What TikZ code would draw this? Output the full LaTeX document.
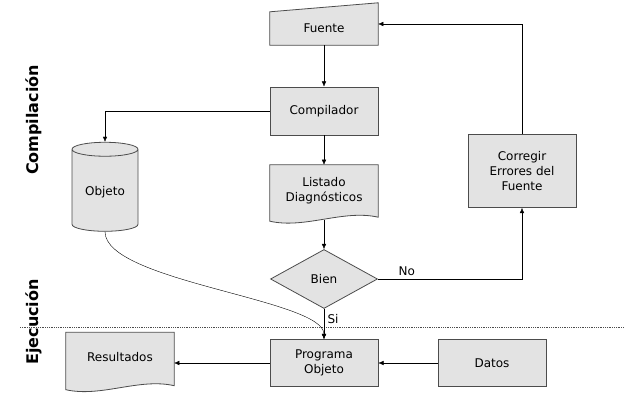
\documentclass[tikz,border=0pt]{standalone}
\usepackage{fontspec}
\setmainfont{DejaVu Sans}
\usetikzlibrary{arrows.meta,positioning,shapes.geometric,calc}
\definecolor{boxgray}{HTML}{E3E3E3}
\tikzset{%
  >={Latex[width=1.6mm,length=1.8mm]},
  % Specifications for style of nodes:
       base/.style = {rectangle, minimum width=108pt, minimum height=48pt,
                      text centered, align=center, font=\fontsize{12}{15}\selectfont},
    process/.style = {base, draw=black!70, thick, fill=boxgray},
   document/.style = {base, draw=none},
    storage/.style = {cylinder, shape border rotate=90, aspect=0.3, draw=black!70, thick,
                      fill=boxgray, minimum width=66pt, minimum height=89pt,
                      font=\fontsize{12}{15}\selectfont},
   decision/.style = {diamond, draw=black!70, thick, fill=boxgray, minimum width=107pt,
                      minimum height=59pt, inner sep=0pt, font=\fontsize{12}{15}\selectfont},
      phase/.style = {rotate=90, font=\bfseries\fontsize{16}{18}\selectfont},
      label/.style = {font=\fontsize{12}{15}\selectfont},
}
\begin{document}
\begin{tikzpicture}[x=1pt, y=-1pt]
    \useasboundingbox (0,0) rectangle (633,411);

    \node (fuente) [document, minimum height=42pt] at (324,24) {};
    \draw [fill=boxgray, draw=black!70, thick] ($(fuente.north west)+(0,9)$) -- (fuente.north east)
        -- (fuente.south east) -- (fuente.south west) -- cycle;
    \node at ($(fuente)+(0,4)$) [label] {Fuente};

    \node (compilador) [process] at (324,111) {Compilador};

    \node (listado) [document, minimum height=58pt] at (324,194) {};
    \draw [fill=boxgray, draw=black!70, thick] (listado.north west) -- (listado.north east)
        -- ($(listado.south east)+(0,-6)$) .. controls +(-35,-8) and +(35,8) .. ($(listado.south west)+(0,-2)$) -- cycle;
    \node at ($(listado)+(0,-3)$) [align=center, label] {Listado\\Diagnósticos};

    \node (objeto) [storage] at (105,192) {Objeto};
    \node (corregir) [process, minimum height=73pt] at (522,171) {Corregir\\Errores del\\Fuente};
    \node (bien) [decision] at (324,279) {Bien};

    \node (programa) [process, minimum height=47pt] at (324,363) {Programa\\Objeto};
    \node (datos) [process, minimum height=47pt] at (492,363) {Datos};

    \node (resultados) [document, minimum height=59pt] at (120,362) {};
    \draw [fill=boxgray, draw=black!70, thick] (resultados.north west) -- (resultados.north east)
        -- ($(resultados.south east)+(0,-6)$) .. controls +(-35,-8) and +(35,8) .. ($(resultados.south west)+(0,-2)$) -- cycle;
    \node at ($(resultados)+(0,-5)$) [label] {Resultados};

    \node (compilacion) [phase] at (34,120) {Compilación};
    \node (ejecucion) [phase] at (34,322) {Ejecución};

    \draw [densely dotted, thick, black!70] (20,327) -- (624,327);

    \draw [->] (fuente) -- (compilador);
    \draw [->] (compilador) -- (listado.north);
    \draw [->] ($(listado.south)+(0,-3)$) -- (bien);
    \draw [->] (compilador.west) -| (objeto.north);
    \draw [->] (bien.south) -- node [pos=0.35, right, label] {Si} (programa);
    \draw [->] (bien.east) -| node [pos=0.1, above, label] {No} (corregir);
    \draw [->] (corregir.north) |- (fuente.east);
    \draw [->] (objeto.south) .. controls +(0,50) and +(0,-40) .. (programa.north);
    \draw [->] (datos) -- (programa);
    \draw [->] (programa.west) -- (programa.west -| resultados.east);
\end{tikzpicture}
\end{document}
